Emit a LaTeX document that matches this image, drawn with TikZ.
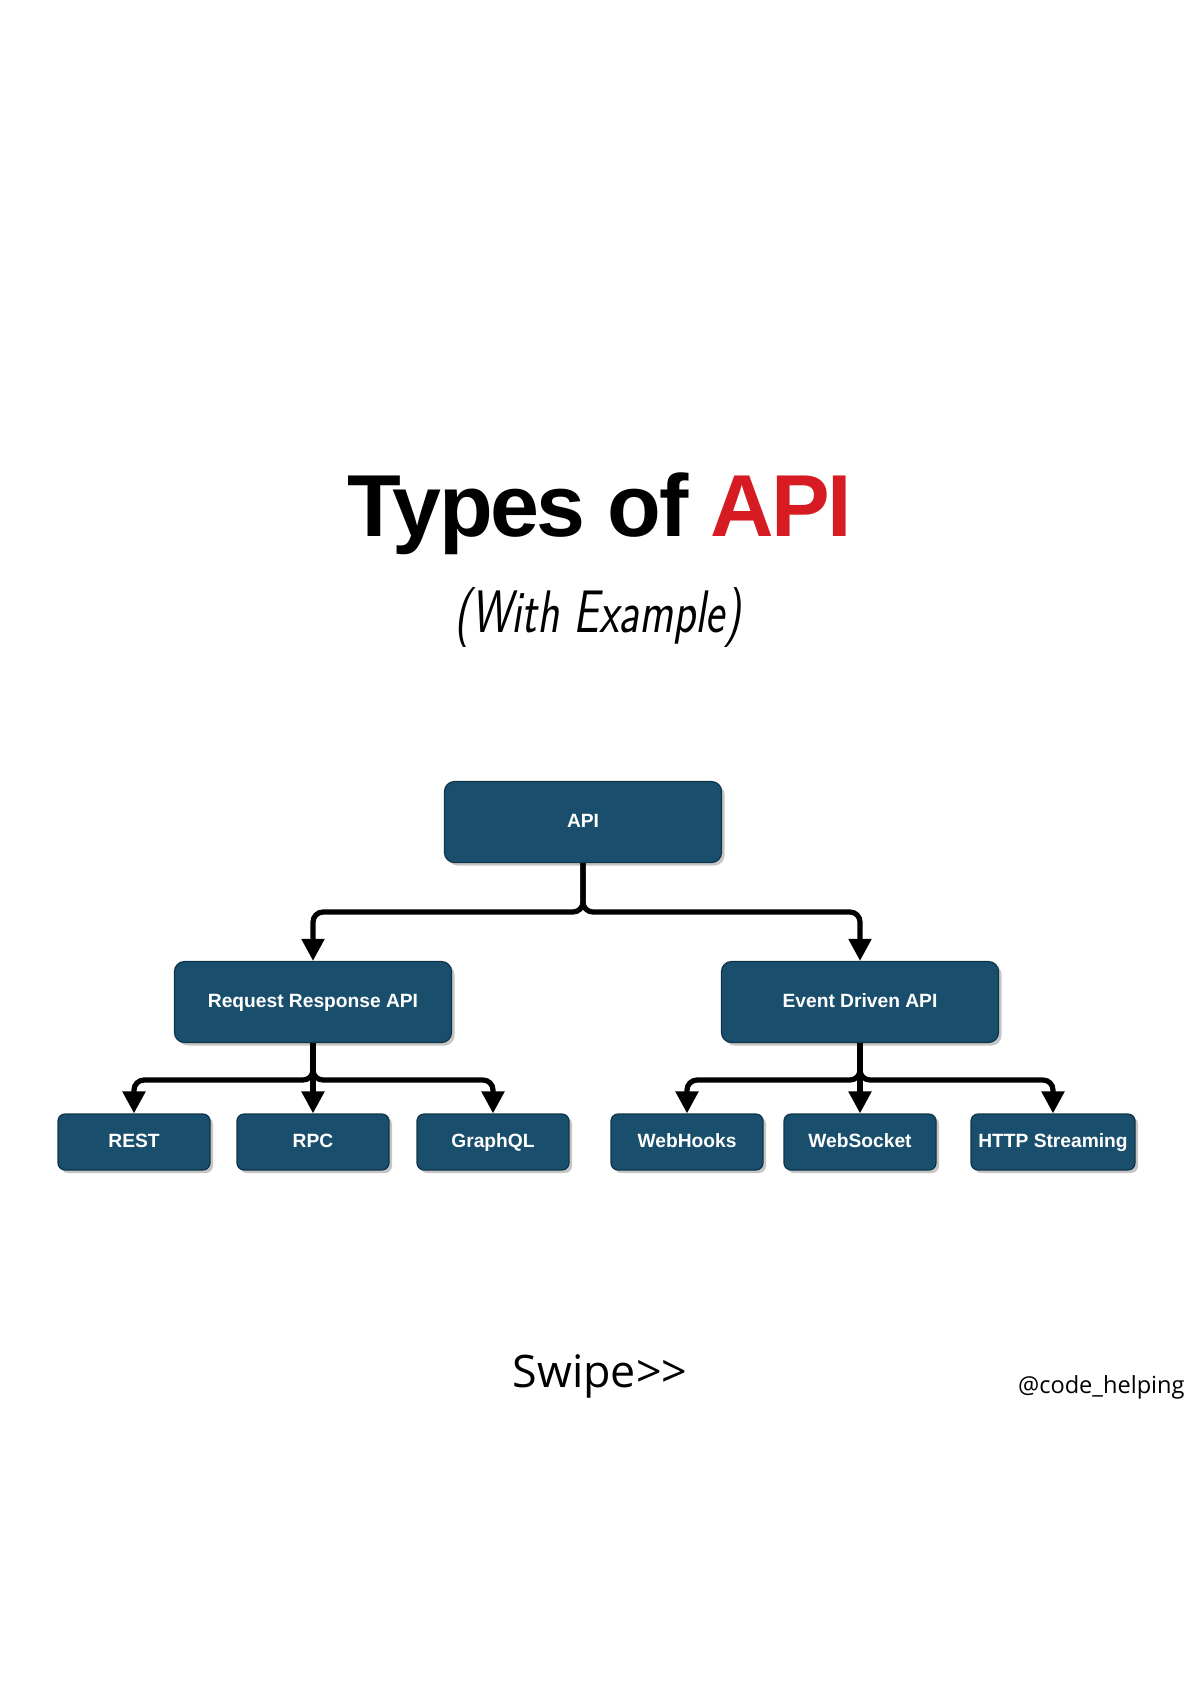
\documentclass[tikz,border=0pt]{standalone}
\usepackage{fontspec}
\newfontfamily\boxfont{Liberation Sans}
\newfontfamily\titlefont[LetterSpace=-2.8]{Liberation Sans}
\newfontfamily\swipefont{Open Sans}
\usetikzlibrary{arrows.meta,shadows,positioning}
\definecolor{boxblue}{RGB}{25,79,108}
\definecolor{boxedge}{RGB}{14,52,74}
\definecolor{apired}{RGB}{214,28,34}
\tikzset{
    apibox/.style={draw=boxedge, line width=0.6pt, fill=boxblue,
        rounded corners=5pt, text=white,
        font=\boxfont\bfseries\fontsize{9.6}{11}\selectfont,
        text height=7pt, text depth=2pt,
        minimum width=138.5pt, minimum height=40.5pt,
        drop shadow={shadow xshift=1.5pt, shadow yshift=-1.5pt,
            fill=black!45, opacity=0.5}},
    leafbox/.style={apibox, rounded corners=3.5pt,
        minimum width=76pt, minimum height=28pt},
    link/.style={line width=2.6pt, rounded corners=5pt,
        -{Triangle[width=11pt,length=11pt]}}
}
\begin{document}
\begin{tikzpicture}[x=0.5pt, y=-0.5pt]
                \useasboundingbox (0,0) rectangle (1200,1698);

                \node[anchor=base,
                    font=\titlefont\bfseries\fontsize{44}{50}\selectfont]
                    (title) at (600,536) {Types of \textcolor{apired}{API}};
                \node[anchor=base,
                    font=\sffamily\itshape\fontsize{30}{34}\selectfont]
                    (subtitle) at (598,632) {\scalebox{0.76}[1]{(With Example)}};

                \node[apibox] (api) at (583,822) {API};
                \node[apibox] (rr) at (313,1002) {Request Response API};
                \node[apibox] (ed) at (860,1002) {Event Driven API};

                \node[leafbox] (rest) at (134,1142) {REST};
                \node[leafbox] (rpc) at (313,1142) {RPC};
                \node[leafbox] (gql) at (493,1142) {GraphQL};
                \node[leafbox] (hooks) at (687,1142) {WebHooks};
                \node[leafbox] (sock) at (860,1142) {WebSocket};
                \node[leafbox, minimum width=82pt]
                    (http) at (1053,1142) {HTTP Streaming};

                \coordinate (topbus) at (583,912);
                \coordinate (leftbus) at (313,1080);
                \coordinate (rightbus) at (860,1080);

                \draw[link] (api.south) -- (topbus) -| (rr.north);
                \draw[link] (api.south) -- (topbus) -| (ed.north);

                \draw[link] (rr.south) -- (leftbus) -| (rest.north);
                \draw[link] (rr.south) -- (rpc.north);
                \draw[link] (rr.south) -- (leftbus) -| (gql.north);

                \draw[link] (ed.south) -- (rightbus) -| (hooks.north);
                \draw[link] (ed.south) -- (sock.north);
                \draw[link] (ed.south) -- (rightbus) -| (http.north);

                \node[anchor=base, font=\swipefont\fontsize{22.4}{26}\selectfont]
                    (swipe) at (600,1387) {Swipe{>}{>}};
                \node[anchor=base west, font=\swipefont\fontsize{11.8}{14}\selectfont]
                    (handle) at (1011,1393) {@code\_helping};
            \end{tikzpicture}
\end{document}
